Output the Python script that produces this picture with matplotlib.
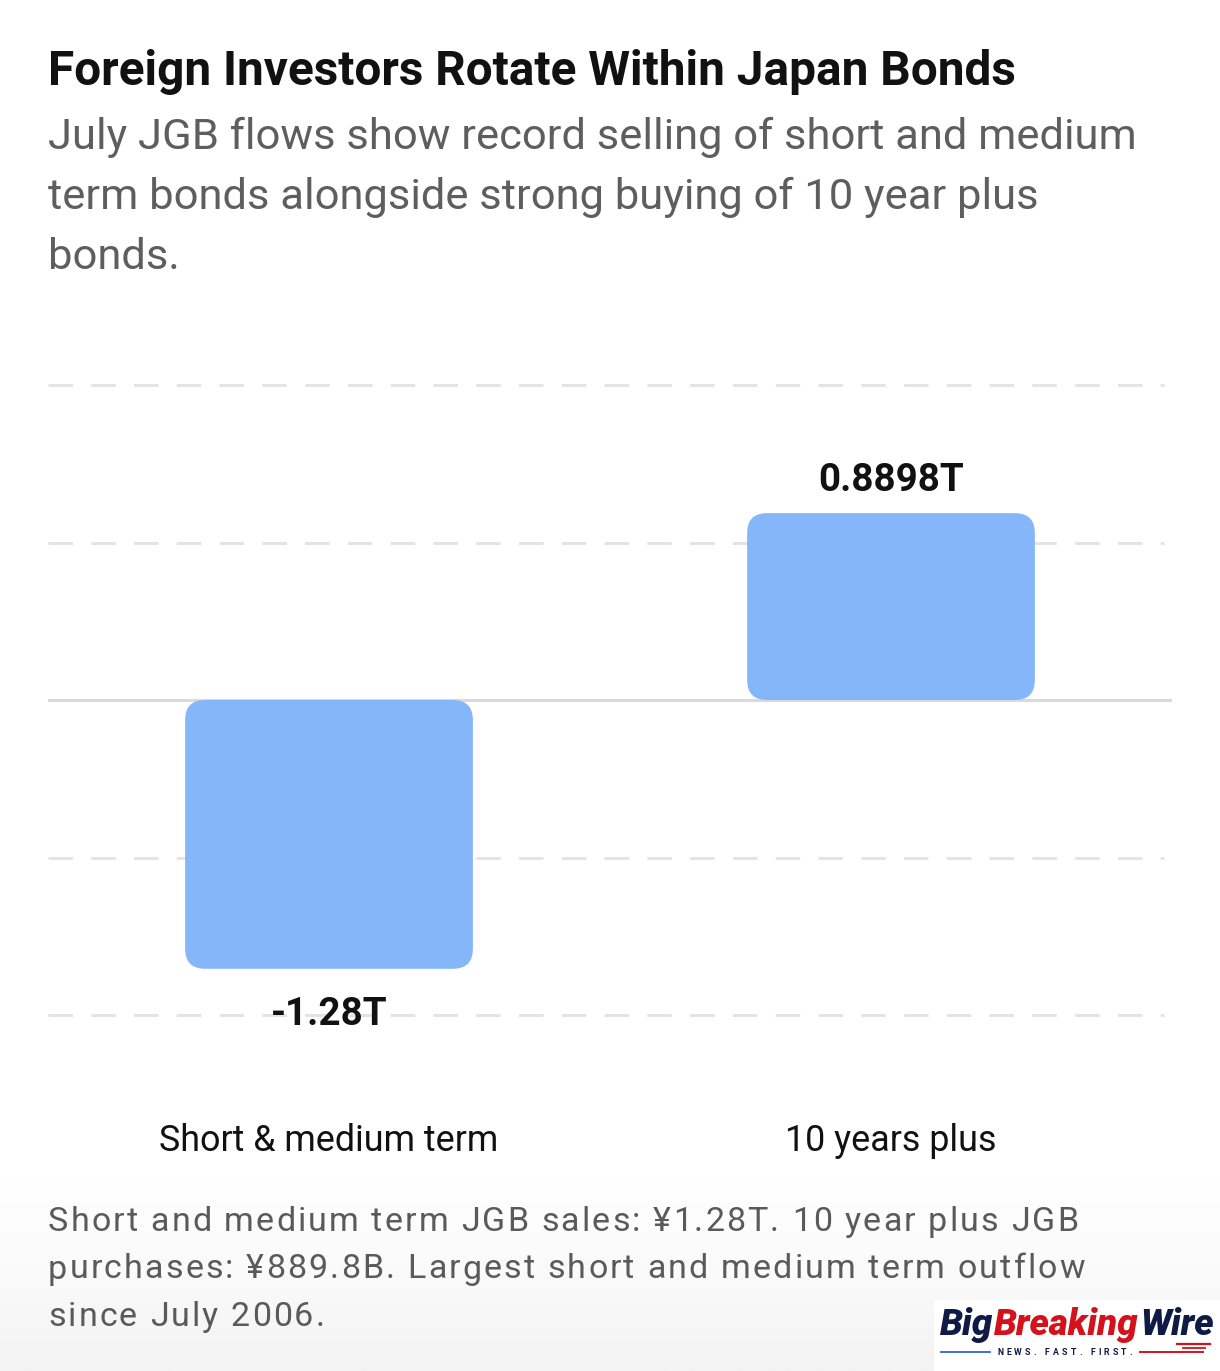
import numpy as np
import matplotlib
matplotlib.use("Agg")
import matplotlib.pyplot as plt
from matplotlib.patches import FancyBboxPatch, Rectangle
from matplotlib.lines import Line2D
from matplotlib.font_manager import FontProperties
from matplotlib.colors import LinearSegmentedColormap

# data
categories = ["Short & medium term", "10 years plus"]
values = [-1.28, 0.8898]
value_labels = ["-1.28T", "0.8898T"]
grid_ticks = [-1.5, -0.75, 0.75, 1.5]

title = "Foreign Investors Rotate Within Japan Bonds"
subtitle = ["July JGB flows show record selling of short and medium",
            "term bonds alongside strong buying of 10 year plus",
            "bonds."]
footer = ["Short and medium term JGB sales: \u00a51.28T. 10 year plus JGB",
          "purchases: \u00a5889.8B. Largest short and medium term outflow",
          "since July 2006."]

W, H = 1220, 1371
plt.rcParams['font.family'] = ['Roboto', 'DejaVu Sans']

fig = plt.figure(figsize=(W / 100, H / 100), dpi=100)
fig.patch.set_facecolor('white')
r = fig.canvas.get_renderer()


def fy(py):
    return 1 - py / H


def spaced(x0, base_y, s, prop, color, spacing):
    # draw text char by char to get letter spacing
    for i, ch in enumerate(s):
        if ch == ' ':
            continue
        if i == 0:
            dx = 0
        else:
            wa = r.get_text_width_height_descent(s[:i + 1], prop, ismath=False)[0]
            wb = r.get_text_width_height_descent(ch, prop, ismath=False)[0]
            dx = wa - wb
        fig.text((x0 + dx + i * spacing) / W, fy(base_y), ch, fontproperties=prop,
                 color=color, ha='left', va='baseline')


# soft grey at the bottom
gax = fig.add_axes([0, 0, 1, 190 / H], zorder=-2)
cm = LinearSegmentedColormap.from_list('g', ['#f3f3f3', '#fafafa', '#ffffff'])
gax.imshow(np.linspace(0, 1, 64)[:, None], cmap=cm, aspect='auto', origin='lower')
gax.axis('off')

# chart
ax = fig.add_axes([48 / W, (H - 1015) / H, 1124 / W, 630 / H])
ax.set_xlim(-0.5, 1.5)
ax.set_ylim(-1.5, 1.5)
ax.axis('off')

for g in grid_ticks:
    ax.axhline(g, xmax=0.993, color='#e4e4e4', lw=2.2, dashes=(8, 6), clip_on=False, zorder=0)
ax.axhline(0, color='#dadada', lw=2.2, zorder=1)

px_x = 1124 / 2
px_y = 630 / 3
bw = 0.512
rad = 20 / px_x
for i, v in enumerate(values):
    p = FancyBboxPatch((i - bw / 2, min(0, v)), bw, abs(v),
                       boxstyle=f"round,pad=0,rounding_size={rad}",
                       mutation_aspect=px_x / px_y,
                       fc='#84b6f9', ec='none', zorder=2)
    ax.add_patch(p)
    off = 22 if v > 0 else -56
    ax.annotate(value_labels[i], (i, v), xytext=(0, off), textcoords='offset pixels',
                ha='center', va='baseline', fontsize=27.8, fontweight='bold',
                color='#111111', zorder=3)
    ax.text(i, (1015 - 1151) / 630, categories[i], transform=ax.get_xaxis_transform(),
            ha='center', va='baseline', fontsize=25.8, color='#111111')

# header
fig.text(48 / W, fy(85), title, fontsize=34.4, fontweight='bold', color='#111111',
         ha='left', va='baseline')
for k, line in enumerate(subtitle):
    fig.text(48 / W, fy(149 + 60 * k), line, fontsize=31.3, color='#5e5e5e',
             ha='left', va='baseline')

# footer
fprop = FontProperties(family='Roboto', size=24.5)
for k, line in enumerate(footer):
    spaced(48, 1231 + 47.5 * k, line, fprop, '#5a5a5a', 2.15)

# logo
fig.patches.append(Rectangle((934 / W, 0), (W - 934) / W, 71 / H, transform=fig.transFigure,
                             fc='white', ec='none', zorder=0.5))
lprop = FontProperties(family='Roboto', size=26.5, weight='black', style='italic')
x = 940
for word, col in [("Big", '#0f1a45'), ("Breaking", '#d4121b'), ("Wire", '#0f1a45')]:
    fig.text(x / W, fy(1335), word, fontproperties=lprop, color=col, ha='left', va='baseline')
    x += r.get_text_width_height_descent(word, lprop, ismath=False)[0] + 1
tprop = FontProperties(family='Roboto', size=6.3, weight='bold')
spaced(997, 1355, "NEWS. FAST. FIRST.", tprop, '#0f1a45', 3.2)
fig.lines.append(Line2D([941 / W, 990 / W], [fy(1352), fy(1352)], transform=fig.transFigure,
                        color='#2f62d6', lw=1.3))
for x0, x1, yy, lw in [(1140, 1203, 1352, 1.4), (1183, 1205, 1348, 1.3), (1177, 1210, 1344, 1.6)]:
    fig.lines.append(Line2D([x0 / W, x1 / W], [fy(yy), fy(yy)], transform=fig.transFigure,
                            color='#d4121b', lw=lw))

fig.savefig('out.png', dpi=100)
